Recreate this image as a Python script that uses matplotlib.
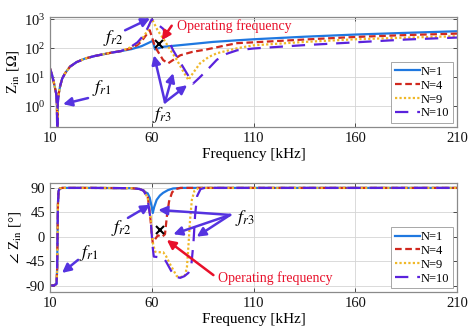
import numpy as np
import matplotlib
matplotlib.use("Agg")
import matplotlib.pyplot as plt
from matplotlib.ticker import LogLocator, FixedLocator, LogFormatterMathtext, NullFormatter

plt.rcParams['font.family'] = ['Liberation Serif', 'DejaVu Serif']
plt.rcParams['mathtext.fontset'] = 'stix'
plt.rcParams['axes.unicode_minus'] = False

# ---------------- data: impedance magnitude (Ohm) ----------------
f_low = [10, 11, 12, 13, 13.4, 13.6, 13.8, 14.2, 15, 16, 17.5, 19.8, 23, 27.2, 32, 40, 45]
z_low = [20, 12, 6, 2.8, 1.2, 0.05, 1.2, 2.5, 5, 9, 14, 23, 33, 44, 54, 70, 80]

f_mag_n1 = f_low + [50, 55, 58, 60.5, 61.6, 65.6, 70, 82, 90, 102, 110, 135, 160, 185, 210]
z_mag_n1 = z_low + [93, 118, 148, 180, 91, 112, 120, 145, 165, 188, 204, 250, 297, 340, 386]

f_mag_n4 = f_low + [50, 53, 55, 57, 59, 61.6, 65.6, 68, 74, 80, 87, 95, 102, 110, 135, 160, 185, 210]
z_mag_n4 = z_low + [100, 130, 175, 270, 420, 112, 39, 30, 57, 75, 91, 120, 150, 160, 200, 245, 285, 320]

f_mag_n9 = f_low + [50, 53, 56, 58, 59.5, 60.2, 63, 65.6, 69, 72.4, 75, 78, 80, 83.7, 88, 92, 102, 110, 135, 160, 185, 210]
z_mag_n9 = z_low + [110, 150, 250, 420, 850, 1000, 400, 220, 90, 39, 18, 8, 13, 30, 50, 67, 100, 126, 165, 204, 232, 260]

f_mag_n10 = f_low + [50, 53, 56, 58, 59.5, 60, 62, 65.6, 70.5, 76.4, 80.3, 83, 87, 92, 97, 102, 110, 135, 160, 185, 210]
z_mag_n10 = z_low + [115, 160, 280, 500, 850, 1000, 750, 470, 85, 17, 6, 9, 17, 40, 65, 85, 98, 128, 160, 200, 234]

# ---------------- data: impedance phase (deg) ----------------
f_ph_low = [10, 12, 13.2, 13.5, 13.7, 13.9, 14.2, 14.8, 16, 30, 50, 54, 56]
p_ph_low = [-89, -89, -86, -60, 0, 60, 84, 89, 90, 90, 89.5, 88, 85]

f_ph_n1 = f_ph_low + [57, 58, 59, 60, 60.5, 61.2, 62.4, 64, 65.6, 68, 70.5, 75, 210]
p_ph_n1 = p_ph_low + [82, 80, 72, 55, 44, 55, 68, 76, 81, 86, 89, 90, 90]

f_ph_n4 = f_ph_low + [58, 59.2, 60, 60.5, 61.5, 63, 65, 66.5, 67.5, 68.5, 70, 72, 74, 210]
p_ph_n4 = p_ph_low + [75, 40, 5, -11, -5, 3, 0, 5, 40, 65, 82, 88, 90, 90]

f_ph_n9 = f_ph_low + [58, 59.5, 60.5, 61.6, 63, 65.6, 67, 69, 72.3, 74, 76.4, 77.3, 78, 78.8, 79.7, 81, 83, 210]
p_ph_n9 = p_ph_low + [72, 35, -10, -27, -28, -28, -35, -50, -72, -74, -70, -55, -18, 30, 68, 85, 90, 90]

f_ph_n10 = f_ph_low + [58, 59.5, 60.5, 61, 63, 65.6, 67, 69.5, 71.5, 74, 76, 78, 79.5, 80.5, 81.3, 82.3, 84, 86, 210]
p_ph_n10 = p_ph_low + [70, 30, -20, -36, -37, -38, -45, -62, -73, -75, -72, -66, -50, -10, 40, 75, 88, 90, 90]

labels = ['N=1', 'N=4', 'N=9', 'N=10']
colors = ['#1f78e0', '#d0281e', '#f0b828', '#5a22dc']
styles = ['-', (0, (3.0, 1.6)), (0, (1.0, 1.0)), (0, (6.0, 4.0))]

op_mag = (63.6, 135)
op_ph = (64, 13)

xticks = [10, 60, 110, 160, 210]
mag_ticks = [1, 10, 100, 1000]
ph_ticks = [-90, -45, 0, 45, 90]

arrow_c = '#5533e0'
red_c = '#e8102a'

fig = plt.figure(figsize=(4.74, 3.30), dpi=100)
ax1 = fig.add_axes([50/474, 1-127/330, 407/474, 110/330])
ax2 = fig.add_axes([50/474, 1-292/330, 407/474, 109/330])

def style_ax(ax):
    ax.set_xlim(10, 210)
    ax.set_xticks(xticks)
    ax.tick_params(direction='in', top=True, right=True, labelsize=10.5, length=3,
                   width=0.6, colors='#333333', labelcolor='#111111')
    ax.tick_params(which='minor', direction='in', top=True, right=True, length=1.5, width=0.5, colors='#555555')
    for s in ax.spines.values():
        s.set_color('#8a8a8a')
        s.set_linewidth(0.9)
    ax.grid(True, which='major', color='#d4d4d4', lw=0.6)
    ax.set_xlabel('Frequency [kHz]', fontsize=11, labelpad=2)

LW = 1.6

# ---- top ----
mags = [(f_mag_n1, z_mag_n1), (f_mag_n4, z_mag_n4), (f_mag_n9, z_mag_n9), (f_mag_n10, z_mag_n10)]
for (fx, zy), lab, c, ls in zip(mags, labels, colors, styles):
    ax1.plot(fx, zy, color=c, ls=ls, lw=LW, label=lab)
ax1.set_yscale('log')
ax1.set_ylim(0.19, 1.2e3)
style_ax(ax1)
ax1.yaxis.set_major_locator(FixedLocator(mag_ticks))
ax1.yaxis.set_major_formatter(LogFormatterMathtext())
ax1.yaxis.set_minor_locator(LogLocator(base=10, subs=np.arange(2, 10)))
ax1.yaxis.set_minor_formatter(NullFormatter())
ax1.grid(True, which='minor', axis='y', color='#d8d8d8', lw=0.5, ls=':')
ax1.set_ylabel(r'Z$_{\rm in}$ [$\Omega$]', fontsize=11, labelpad=2)
ax1.plot(*op_mag, marker='x', color='black', ms=6, mew=1.5, zorder=10)

ap = dict(arrowstyle='-|>', color=arrow_c, lw=1.8, mutation_scale=13, shrinkA=0, shrinkB=0)
rp = dict(arrowstyle='-|>', color=red_c, lw=1.8, mutation_scale=13, shrinkA=0, shrinkB=0)

ax1.annotate('', xy=(64.9, 190), xytext=(69.8, 600), arrowprops=rp, zorder=11)
ax1.text(72.4, 575, 'Operating frequency', color=red_c, fontsize=10, ha='left', va='center')
ax1.annotate('', xy=(59.2, 1080), xytext=(46.9, 417), arrowprops=ap, zorder=11, annotation_clip=False)
ax1.text(41, 220, r'$f_{r2}$', fontsize=13, ha='center', va='center')
ax1.annotate('', xy=(16.4, 1.17), xytext=(28.7, 1.9), arrowprops=ap, zorder=11)
ax1.text(35.6, 4.2, r'$f_{r1}$', fontsize=13, ha='center', va='center')
for hx, hy in [(61.1, 57), (70.5, 13.8), (77.4, 5.3)]:
    ax1.annotate('', xy=(hx, hy), xytext=(66.5, 1.37), arrowprops=ap, zorder=11)
ax1.text(65.1, 0.5, r'$f_{r3}$', fontsize=13, ha='center', va='center')

leg = ax1.legend(loc='lower right', fontsize=9, handlelength=2.0, handletextpad=0.1,
                 labelspacing=0.15, borderpad=0.3, borderaxespad=0.3, fancybox=False,
                 framealpha=1, edgecolor='#999999')
leg.get_frame().set_linewidth(0.6)

# ---- bottom ----
phs = [(f_ph_n1, p_ph_n1), (f_ph_n4, p_ph_n4), (f_ph_n9, p_ph_n9), (f_ph_n10, p_ph_n10)]
for (fx, py), lab, c, ls in zip(phs, labels, colors, styles):
    ax2.plot(fx, py, color=c, ls=ls, lw=LW, label=lab)
ax2.set_ylim(-101, 99)
ax2.set_yticks(ph_ticks)
style_ax(ax2)
ax2.set_ylabel(r'$\angle$ Z$_{\rm in}$ [°]', fontsize=11, labelpad=2)
ax2.plot(*op_ph, marker='x', color='black', ms=6, mew=1.5, zorder=10)

ax2.annotate('', xy=(15.9, -66), xytext=(23.8, -42), arrowprops=ap, zorder=11)
ax2.text(28.9, -29, r'$f_{r1}$', fontsize=13, ha='center', va='center')
ax2.annotate('', xy=(59.2, 59), xytext=(48.3, 35), arrowprops=ap, zorder=11)
ax2.text(45.2, 16, r'$f_{r2}$', fontsize=13, ha='center', va='center')
for hx, hy in [(63.2, 49.6), (70.6, 5), (82.1, 0.5)]:
    ax2.annotate('', xy=(hx, hy), xytext=(98.5, 40.4), arrowprops=ap, zorder=11)
ax2.text(106, 35, r'$f_{r3}$', fontsize=13, ha='center', va='center')
ax2.annotate('', xy=(67.4, -5.5), xytext=(90.3, -70), arrowprops=rp, zorder=11)
ax2.text(92.8, -75, 'Operating frequency', color=red_c, fontsize=10, ha='left', va='center')

leg2 = ax2.legend(loc='lower right', fontsize=9, handlelength=2.0, handletextpad=0.1,
                  labelspacing=0.15, borderpad=0.3, borderaxespad=0.3, fancybox=False,
                  framealpha=1, edgecolor='#999999')
leg2.get_frame().set_linewidth(0.6)

fig.savefig('out.png', dpi=100)
